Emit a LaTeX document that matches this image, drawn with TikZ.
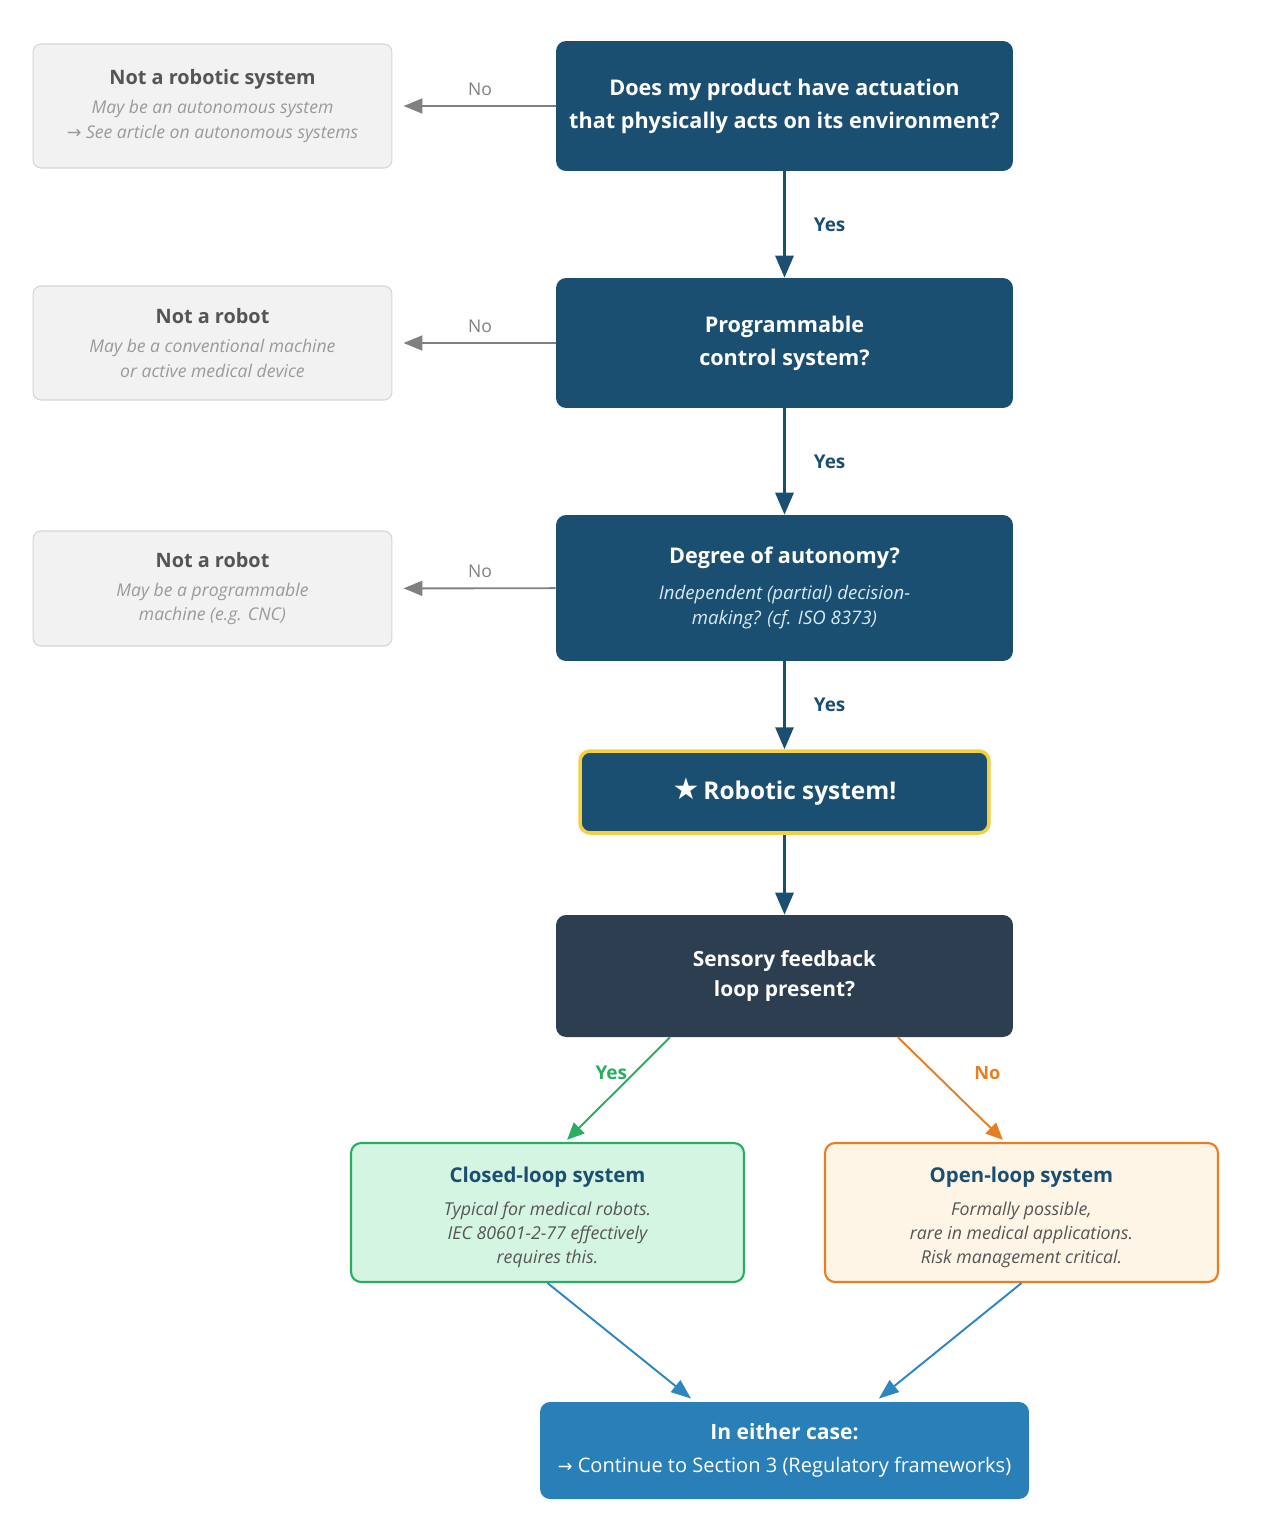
\documentclass[tikz,border=0pt]{standalone}
\usepackage{fontspec}
\setmainfont{Open Sans}
\newfontfamily\symfont{DejaVu Sans}
\usepackage{xcolor}
\definecolor{QBlue}{HTML}{1B4F72}
\definecolor{QDark}{HTML}{2C3E50}
\definecolor{QGold}{HTML}{F4D03F}
\definecolor{QGreen}{HTML}{27AE60}
\definecolor{QGreenBg}{HTML}{D5F5E3}
\definecolor{QOrange}{HTML}{E67E22}
\definecolor{QOrangeBg}{HTML}{FEF5E7}
\definecolor{QSky}{HTML}{2980B9}
\definecolor{QLink}{HTML}{2E86C1}
\definecolor{QGreyBg}{HTML}{F2F2F2}
\definecolor{QGreyLine}{HTML}{D5D5D5}
\definecolor{QGreyText}{HTML}{555555}
\definecolor{QGreySub}{HTML}{9A9A9A}
\definecolor{QPale}{HTML}{D6EAF8}
\usetikzlibrary{arrows.meta, positioning}

\begin{document}
\begin{tikzpicture}[x=0.02cm, y=-0.02cm,
        question/.style={rectangle, rounded corners=0.2cm, fill=QBlue,
                         minimum width=9.14cm, minimum height=2.6cm,
                         align=center, text=white,
                         font=\fontsize{12.3}{18.7}\selectfont\bfseries},
        outbox/.style={rectangle, rounded corners=0.16cm, fill=QGreyBg,
                       draw=QGreyLine, line width=0.6pt,
                       minimum width=7.18cm, align=center, text=QGreySub,
                       font=\fontsize{10}{14}\selectfont\itshape},
        resultbox/.style={rectangle, rounded corners=0.2cm, line width=1.2pt,
                          minimum width=7.86cm, minimum height=2.78cm,
                          align=center, text=QGreyText,
                          font=\fontsize{10.1}{13.6}\selectfont\itshape},
        nolbl/.style={text=gray, font=\fontsize{10}{12}\selectfont},
        yeslbl/.style={text=QBlue, font=\fontsize{10.8}{12}\selectfont\bfseries},
        mainarrow/.style={-{Triangle[width=0.36cm, length=0.44cm]}, QBlue, line width=1.7pt},
        noarrow/.style={-{Triangle[width=0.3cm, length=0.38cm]}, gray, line width=1.1pt},
        >=stealth, line width=0.35pt
      ]
        \useasboundingbox (0,0) rectangle (1275,1536);
        % Questions
        \node[question] (q1) at (784.5,106) {Does my product have actuation\\that physically acts on its environment?};
        \node[question] (q2) at (784.5,343) {Programmable\\control system?};
        \node[question, minimum height=2.92cm, font=\fontsize{10.6}{14.6}\selectfont\itshape, text=QPale]
          (q3) at (784.5,588) {{\color{white}\fontsize{12.3}{14}\selectfont\bfseries\upshape Degree of autonomy?}\\[6pt]
          Independent (partial) decision-\\making? (cf. ISO 8373)};
        % Robotic system
        \node[question, minimum width=8.18cm, minimum height=1.64cm, draw=QGold, line width=2pt,
              font=\fontsize{13.9}{16}\selectfont\bfseries] (robot) at (784.5,792)
          {{\symfont\fontsize{17}{16}\selectfont ★}\,Robotic system!};
        \node[question, fill=QDark, minimum height=2.44cm, font=\fontsize{11.9}{17.5}\selectfont\bfseries]
          (sense) at (784.5,976) {Sensory feedback\\loop present?};
        % Not a robot
        \node[outbox, minimum height=2.48cm] (n1) at (212.5,106)
          {{\color{QGreyText}\fontsize{11.3}{14}\selectfont\bfseries\upshape Not a robotic system}\\[2.5pt]
          May be an autonomous system\\{\symfont\upshape →} See article on autonomous systems};
        \node[outbox, minimum height=2.28cm] (n2) at (212.5,343)
          {{\color{QGreyText}\fontsize{11.3}{14}\selectfont\bfseries\upshape Not a robot}\\[2.5pt]
          May be a conventional machine\\or active medical device};
        \node[outbox, minimum height=2.3cm] (n3) at (212.5,588.5)
          {{\color{QGreyText}\fontsize{11.3}{14}\selectfont\bfseries\upshape Not a robot}\\[2.5pt]
          May be a programmable\\machine (e.g. CNC)};
        % Loop types
        \node[resultbox, fill=QGreenBg, draw=QGreen] (closed) at (547.5,1212.5)
          {{\color{QBlue}\fontsize{11.6}{14}\selectfont\bfseries\upshape\rule{0pt}{14pt}Closed-loop system}\\[5.5pt]
          Typical for medical robots.\\IEC 80601-2-77 effectively\\requires this.};
        \node[resultbox, fill=QOrangeBg, draw=QOrange] (open) at (1021.5,1212.5)
          {{\color{QBlue}\fontsize{11.6}{14}\selectfont\bfseries\upshape\rule{0pt}{14pt}Open-loop system}\\[5.5pt]
          Formally possible,\\rare in medical applications.\\Risk management critical.};
        % Final
        \node[question, fill=QSky, minimum width=9.78cm, minimum height=1.94cm,
              font=\fontsize{11.4}{18.7}\selectfont] (final) at (784.5,1450.5)
          {{\fontsize{12}{14}\selectfont\bfseries In either case:}\\{\symfont\fontsize{10}{12}\selectfont →} Continue to Section 3 (Regulatory frameworks)};
        % Yes arrows
        \draw[mainarrow] (q1) -- node[yeslbl, right=0.44cm] (y1) {Yes} (q2);
        \draw[mainarrow] (q2) -- node[yeslbl, right=0.44cm] (y2) {Yes} (q3);
        \draw[mainarrow] (q3) -- node[yeslbl, right=0.44cm] (y3) {Yes} (robot);
        \draw[mainarrow] (robot) -- (sense);
        % No arrows
        \draw[noarrow, shorten >=0.22cm] (q1) -- node[nolbl, above=0.08cm, xshift=0.12cm] (x1) {No} (n1);
        \draw[noarrow, shorten >=0.22cm] (q2) -- node[nolbl, above=0.08cm, xshift=0.12cm] (x2) {No} (n2);
        \draw[noarrow, shorten >=0.22cm] (q3) -- node[nolbl, above=0.08cm, xshift=0.12cm] (x3) {No} (n3);
        % Branches
        \draw[-{Triangle[width=0.3cm, length=0.34cm]}, QGreen, line width=1.1pt, shorten >=0.06cm]
          ([xshift=-2.29cm]sense.south) -- node[pos=0.34, xshift=-0.46cm, font=\fontsize{10.8}{12}\selectfont\bfseries] (yc) {Yes}
          ([xshift=0.35cm]closed.north);
        \draw[-{Triangle[width=0.3cm, length=0.34cm]}, QOrange, line width=1.1pt, shorten >=0.06cm]
          ([xshift=2.27cm]sense.south) -- node[pos=0.34, xshift=1.06cm, font=\fontsize{10.4}{12}\selectfont\bfseries] (no) {No}
          ([xshift=-0.33cm]open.north);
        \draw[-{Triangle[width=0.3cm, length=0.4cm]}, QLink, line width=1.1pt, shorten >=0.1cm]
          (closed.south) -- ([xshift=-1.79cm]final.north);
        \draw[-{Triangle[width=0.3cm, length=0.4cm]}, QLink, line width=1.1pt, shorten >=0.1cm]
          (open.south) -- ([xshift=1.81cm]final.north);
      \end{tikzpicture}
\end{document}
